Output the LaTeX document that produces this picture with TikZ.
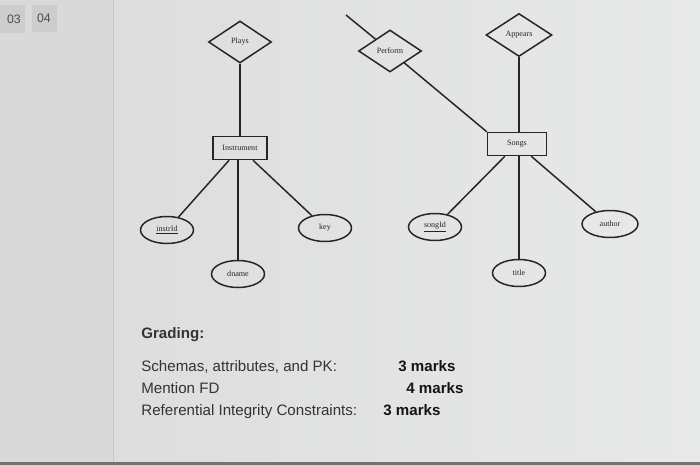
\documentclass[tikz,border=0pt]{standalone}
\usepackage{fontspec}
\setmainfont{Liberation Serif}
\newfontfamily\gradefont{Liberation Sans}
\usepackage{tikz}
\usetikzlibrary{shapes.geometric}

\definecolor{pagegray}{HTML}{DADBDA}
\definecolor{pagelight}{HTML}{E8EAE9}
\definecolor{sidegray}{HTML}{D8D9D8}
\definecolor{tabgray}{HTML}{CDCDCD}
\definecolor{inkgray}{HTML}{262626}

\begin{document}
\begin{tikzpicture}[x=0.02cm, y=-0.02cm,
    relbox/.style={draw=inkgray, line width=0.85pt, diamond, inner sep=0pt, minimum width=1.26cm, minimum height=0.84cm, font=\fontsize{4.6}{5}\selectfont, text=inkgray},
    entbox/.style={draw=inkgray, line width=0.85pt, rectangle, inner sep=0pt, minimum height=0.46cm, font=\fontsize{4.6}{5}\selectfont, text=inkgray},
    attrbox/.style={draw=inkgray, line width=0.85pt, ellipse, inner sep=0pt, minimum width=1.06cm, minimum height=0.54cm, font=\fontsize{4.6}{5}\selectfont, text=inkgray},
    link/.style={draw=inkgray, line width=0.85pt},
    gradetext/.style={anchor=base west, inner sep=0pt, text=black!80, font=\gradefont\fontsize{8.6}{10}\selectfont},
    marktext/.style={anchor=base west, inner sep=0pt, text=black!92, font=\gradefont\bfseries\fontsize{8.6}{10}\selectfont}]
    % page of the photo
    \useasboundingbox (0,0) rectangle (700,465);
    \shade[left color=pagegray, right color=pagelight] (0,0) rectangle (700,465);
    \fill[sidegray] (0,0) rectangle (113,462);
    \draw[black!22, line width=0.4pt] (113,0) -- (113,462);
    \fill[black!55] (0,462) rectangle (700,465);

    % question tabs
    \fill[tabgray] (0,5) rectangle (25,33);
    \fill[tabgray] (32,5) rectangle (57,32);
    \node[text=black!70, font=\gradefont\fontsize{7}{8}\selectfont] (tabA) at (14,19) {03};
    \node[text=black!70, font=\gradefont\fontsize{7}{8}\selectfont] (tabB) at (44,18) {04};

    % relationships and entities
    \node[relbox] (plays) at (240,42) {Plays};
    \node[relbox] (perform) at (390,51) {Perform};
    \node[relbox, minimum width=1.32cm, minimum height=0.86cm] (appears) at (519,35) {Appears};
    \node[entbox, minimum width=1.08cm] (inst) at (240,148) {Instrument};
    \node[entbox, minimum width=1.18cm] (songs) at (517,144) {Songs};

    % attributes
    \node[attrbox] (instrid) at (167,230) {\underline{instrId}};
    \node[attrbox] (key) at (325,228) {key};
    \node[attrbox] (dname) at (238,274) {dname};
    \node[attrbox] (songid) at (435,227) {\underline{songId}};
    \node[attrbox] (title) at (519,273) {title};
    \node[attrbox, minimum width=1.12cm] (author) at (610,224) {author};

    \coordinate (perfin) at (346,15);

    \draw[link] (plays) -- (inst);
    \draw[link] (perfin) -- (perform);
    \draw[link] (perform) -- (songs.north west);
    \draw[link] (appears.south) -- (songs.north -| appears.south);
    \draw[link] (inst) -- (instrid);
    \draw[link] (inst) -- (key);
    \draw[link] (inst.south -| dname.north) -- (dname.north);
    \draw[link] (songs) -- (songid);
    \draw[link] (songs) -- (author);
    \draw[link] (songs.south -| title.north) -- (title.north);

    % grading
    \node[gradetext, font=\gradefont\bfseries\fontsize{8.6}{10}\selectfont] (grading) at (141,339) {Grading:};
    \node[gradetext] (schemas) at (141,372) {Schemas, attributes, and PK:};
    \node[gradetext] (mention) at (141,394) {Mention FD};
    \node[gradetext] (referential) at (141,416) {Referential Integrity Constraints:};
    \node[marktext] (markA) at (398,372) {3 marks};
    \node[marktext] (markB) at (406,394) {4 marks};
    \node[marktext] (markC) at (383,416) {3 marks};
\end{tikzpicture}
\end{document}
